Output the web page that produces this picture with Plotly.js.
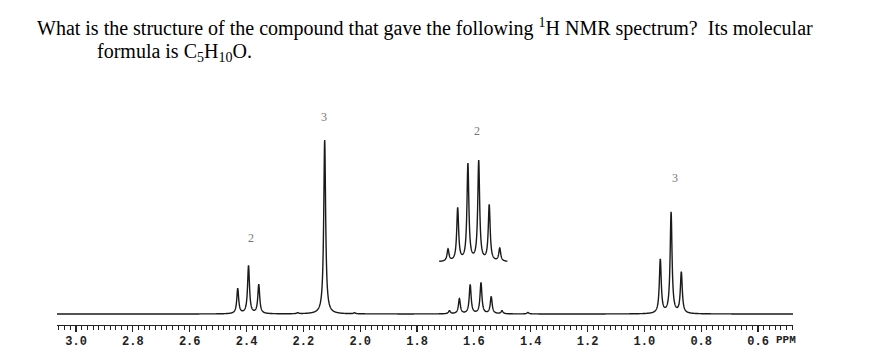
<!DOCTYPE html>
<html>
<head>
<meta charset="utf-8">
<script src="https://cdn.plot.ly/plotly-3.0.1.min.js"></script>
<style>html,body{margin:0;padding:0;background:#fff;}#chart{width:873px;height:363px;}</style>
</head>
<body>
<div id="chart"></div>
<script>
// ---- Data ----
// main spectrum: peak positions (ppm) and apparent heights
const peakPpm    = [2.431, 2.393, 2.357, 2.125, 1.686, 1.651, 1.613, 1.575, 1.539, 1.501, 0.944, 0.906, 0.870, 2.220, 2.020, 1.410];
const peakHeight = [25, 48, 29, 174, 3, 15, 29, 31, 17, 3, 54, 101, 41, 1, 1, 1.5];
// expanded inset of the 1.6 ppm multiplet
const insetPpm    = [1.691, 1.657, 1.621, 1.583, 1.546, 1.509];
const insetHeight = [12, 53, 97, 100, 56, 13];
const insetRange  = [1.722, 1.482];
const lineWidthPpm = 0.008;
// integration labels
const integText = ['3', '2', '2', '3'];
const integPpm  = [2.129, 2.386, 1.589, 0.894];
const integY    = [197, 76, 183, 136];
// axis ticks
const tickVals = [3.0, 2.8, 2.6, 2.4, 2.2, 2.0, 1.8, 1.6, 1.4, 1.2, 1.0, 0.8, 0.6];
const tickText = ['3.0', '2.8', '2.6', '2.4', '2.2', '2.0', '1.8', '1.6', '1.4', '1.2', '1.0', '0.8', '0.6'];
const unitLabel = 'PPM';
const xRange = [3.067, 0.477];

// ---- line shapes built from the peak lists ----
function spectrum(ppms, hs, from, to) {
  const xs = [], ys = [];
  const n = Math.round(Math.abs(from - to) / 0.0005);
  for (let i = 0; i <= n; i++) {
    const x = from + (to - from) * i / n;
    let y = 0;
    for (let k = 0; k < ppms.length; k++) {
      const d = 2 * (x - ppms[k]) / lineWidthPpm;
      y += hs[k] / (1 + d * d);
    }
    xs.push(x); ys.push(y);
  }
  return {xs, ys};
}
const main = spectrum(peakPpm, peakHeight, xRange[0], xRange[1]);
const inset = spectrum(insetPpm, insetHeight, insetRange[0], insetRange[1]);

const lineStyle = {color: '#1a1a1a', width: 1.4, simplify: false};
const traces = [
  {x: main.xs, y: main.ys, type: 'scatter', mode: 'lines', line: lineStyle, hoverinfo: 'skip', xaxis: 'x', yaxis: 'y'},
  {x: inset.xs, y: inset.ys, type: 'scatter', mode: 'lines', line: lineStyle, hoverinfo: 'skip', xaxis: 'x', yaxis: 'y2'}
];

const tickFont = {family: 'Liberation Mono', size: 12, color: '#222', weight: 'bold'};
const annotations = integText.map((t, i) => ({
  x: integPpm[i], y: integY[i], xref: 'x', yref: 'y', text: t, showarrow: false,
  font: {family: 'Liberation Serif', size: 12, color: '#777'}
}));
annotations.push({
  xref: 'paper', yref: 'paper', x: 0.974, y: -0.068, xanchor: 'left', yanchor: 'middle',
  text: unitLabel, showarrow: false, font: {family: 'Liberation Mono', size: 11, color: '#222', weight: 'bold'}
});
annotations.push({
  xref: 'paper', yref: 'paper', x: -0.0299, y: 1.324, xanchor: 'left', yanchor: 'middle',
  text: 'What is the structure of the compound that gave the following <sup>1</sup>H NMR spectrum?  Its molecular',
  showarrow: false, font: {family: 'Liberation Serif', size: 20, color: '#000'}
});
annotations.push({
  xref: 'paper', yref: 'paper', x: 0.0516, y: 1.213, xanchor: 'left', yanchor: 'middle',
  text: 'formula is C<sub>5</sub>H<sub>10</sub>O.',
  showarrow: false, font: {family: 'Liberation Serif', size: 20, color: '#000'}
});

const layout = {
  width: 873, height: 363,
  margin: {l: 57, r: 80, t: 100, b: 38},
  paper_bgcolor: '#fff', plot_bgcolor: '#fff',
  showlegend: false,
  xaxis: {
    range: xRange, showgrid: false, zeroline: false,
    showline: true, linecolor: '#222', linewidth: 1.3,
    tickmode: 'array', tickvals: tickVals, ticktext: tickText, tickangle: 0,
    ticks: 'outside', ticklen: 6, tickwidth: 1.2, tickcolor: '#222', ticklabelstandoff: -2,
    minor: {tickmode: 'linear', tick0: 0, dtick: 0.02, ticks: 'outside', ticklen: 3.5, tickwidth: 1, tickcolor: '#222', showgrid: false},
    tickfont: tickFont,
    fixedrange: true
  },
  xaxis2: {
    range: xRange, overlaying: 'x', anchor: 'y', side: 'bottom',
    showgrid: false, zeroline: false, showline: false, showticklabels: false,
    tickmode: 'linear', tick0: 0, dtick: 0.1, ticks: 'outside', ticklen: 6, tickwidth: 1.2, tickcolor: '#222',
    fixedrange: true
  },
  yaxis: {range: [-11, 214], visible: false, showgrid: false, zeroline: false, fixedrange: true},
  yaxis2: {range: [-63, 162], overlaying: 'y', visible: false, showgrid: false, zeroline: false, fixedrange: true},
  annotations: annotations
};

Plotly.newPlot('chart', traces, layout, {displayModeBar: false, staticPlot: true});
</script>
</body>
</html>
